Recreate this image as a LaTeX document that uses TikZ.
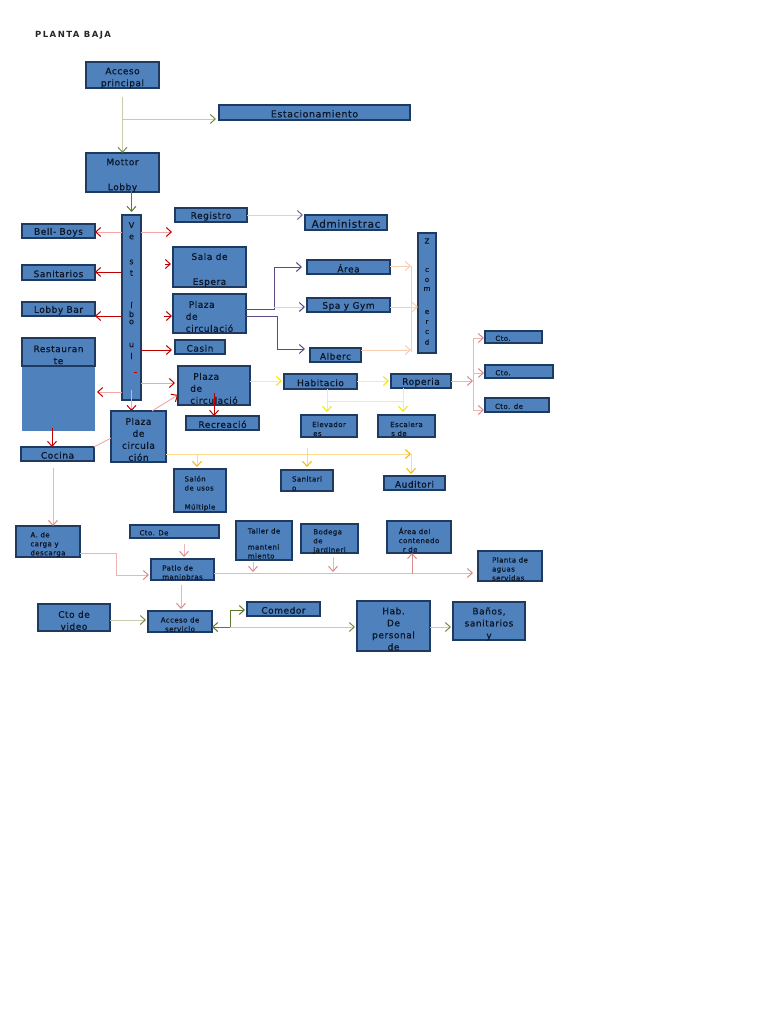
\documentclass[tikz,border=0pt]{standalone}
\usepackage{fontspec}
\setmainfont{DejaVu Sans}[LetterSpace=6,FakeBold=0.6]
\newfontfamily\titlef{DejaVu Sans}[LetterSpace=17]
\usetikzlibrary{arrows.meta}
\definecolor{boxfill}{HTML}{4F81BD}
\definecolor{boxline}{HTML}{1F3A60}
\definecolor{txt}{HTML}{0C1628}
\definecolor{redD}{HTML}{C00000}
\definecolor{redP}{HTML}{F4A6A6}
\definecolor{oliveP}{HTML}{C8CCAA}
\definecolor{oliveD}{HTML}{5E7A2E}
\definecolor{oliveT}{HTML}{7C8C48}
\definecolor{purp}{HTML}{5B4A86}
\definecolor{greyL}{HTML}{D4D4DC}
\definecolor{greyT}{HTML}{6E6E8E}
\definecolor{peach}{HTML}{FBCDB0}
\definecolor{yel}{HTML}{FFFF20}
\definecolor{yelT}{HTML}{F2E600}
\definecolor{orgL}{HTML}{FDDA8C}
\definecolor{orgT}{HTML}{F2B705}
\definecolor{pinkL}{HTML}{EEB4B4}
\definecolor{pinkT}{HTML}{D98A8A}
% \bx[text options]{name}{x1}{y1}{x2}{y2}{text}
\newcommand\bx[7][]{\node[box,minimum width={(#5)-(#3)},minimum height={(#6)-(#4)}] (#2) at ({((#3)+(#5))/2},{((#4)+(#6))/2}) {};
  \node[boxtext,#1] (#2-t) at ([yshift=-1.3pt]#2.center) {#7};}
\tikzset{
 box/.style={draw=boxline,fill=boxfill,line width=1.3pt,inner sep=0pt,outer sep=0pt},
 boxtext/.style={inner sep=0pt,text=txt,align=center,font=\fontsize{9}{12}\selectfont},
 ml/.style={yshift=-1.6pt},
 sm/.style={font=\fontsize{7}{9}\selectfont},
 vletter/.style={inner sep=0pt,text=txt,font=\fontsize{8}{9}\selectfont},
 zletter/.style={inner sep=0pt,text=txt,font=\fontsize{7}{9}\selectfont},
 tipc/.style={-{Straight Barb[length=5pt,width=9pt,line width=1pt,color=#1]}},
 lolive/.style={draw=oliveP,line width=0.9pt,tipc=oliveT},
 dolive/.style={draw=oliveD,line width=0.9pt,tipc=oliveD},
 lgrey/.style={draw=greyL,line width=0.9pt,tipc=greyT},
 lredP/.style={draw=redP,line width=0.9pt,tipc=redD},
 lredD/.style={draw=redD,line width=0.9pt,tipc=redD},
 redthin/.style={draw=redP,line width=0.9pt},
 lpurp/.style={draw=purp,line width=0.9pt,tipc=purp},
 lgreyP/.style={draw=greyL,line width=0.9pt,tipc=purp},
 lpeach/.style={draw=peach,line width=0.9pt,tipc=peach},
 peachline/.style={draw=peach,line width=0.9pt},
 lyel/.style={draw=yel,line width=1pt,tipc=yelT},
 yelline/.style={draw=yel,line width=1pt},
 lorg/.style={draw=orgL,line width=0.9pt,tipc=orgT},
 lpink/.style={draw=pinkL,line width=0.9pt,tipc=pinkT},
 lpinkD/.style={draw=pinkT,line width=0.9pt,tipc=pinkT},
 pinkline/.style={draw=pinkL,line width=0.9pt},
 bothtips/.style={{Straight Barb[length=5pt,width=9pt,line width=1pt,color=oliveD]}-{Straight Barb[length=5pt,width=9pt,line width=1pt,color=oliveD]}},
}
\begin{document}
\begin{tikzpicture}[x=1pt,y=-1pt]
\fill[white] (0,0) rectangle (768,1024);
\useasboundingbox (0,0) rectangle (768,1024);
\node[font=\titlef\bfseries\fontsize{8.5}{10}\selectfont,text=black!85,anchor=west,inner sep=0pt] (title) at (35,35) {PLANTA BAJA};
% boxes
\bx[ml]{acceso}{86}{62}{159}{88}{Acceso\\principal}
\bx[font=\fontsize{9.5}{12}\selectfont]{estac}{219}{105}{410}{120}{Estacionamiento}
\bx[ml]{mottor}{86}{153}{159}{192}{Mottor\\[13pt]Lobby}
\bx{vest}{122}{215}{141}{400}{}
\bx{registro}{175}{208}{247}{222}{Registro}
\bx[font=\fontsize{10.5}{12}\selectfont]{admin}{305}{215}{387}{230}{Administrac}
\bx[ml]{sala}{173}{247}{246}{287}{Sala de\\[13pt]Espera}
\bx[ml,align=left]{plazaA}{173}{294}{246}{333}{\hspace*{3pt}Plaza\\de\\circulació}
\bx{casin}{175}{340}{225}{354}{Casin}
\bx[ml,align=left]{plazaB}{178}{366}{250}{405}{\hspace*{3pt}Plaza\\de\\circulació}
\bx{recre}{186}{416}{259}{430}{Recreació}
\bx[ml]{plazaC}{111}{411}{166}{462}{Plaza\\de\\circula\\ción}
\bx{bell}{22}{224}{95}{238}{Bell- Boys}
\bx{sanit}{22}{265}{95}{280}{Sanitarios}
\bx{lobbybar}{22}{302}{95}{316}{Lobby Bar}
\node[fill=boxfill,inner sep=0pt,outer sep=0pt,minimum width=73,minimum height=65] (restfill) at (58.5,398.5) {};
\bx[ml]{rest}{22}{338}{95}{366}{Restauran\\te}
\bx{cocina}{21}{447}{94}{461}{Cocina}
\bx{area}{307}{260}{390}{274}{Área}
\bx{spa}{307}{298}{390}{312}{Spa y Gym}
\bx{alberc}{310}{348}{361}{362}{Alberc}
\bx{zona}{418}{233}{436}{353}{}
\bx{habit}{284}{374}{357}{389}{Habitacio}
\bx{roperia}{391}{374}{451}{388}{Roperia}
\bx[ml,sm,align=left]{elev}{301}{415}{357}{437}{Elevador\\\hspace*{1pt}es}
\bx[ml,sm,align=left]{escal}{378}{415}{435}{437}{Escalera\\\hspace*{1pt}s de}
\bx[sm]{cto1}{485}{331}{542}{343}{Cto.\hspace*{21pt}}
\bx[sm]{cto2}{485}{365}{553}{378}{Cto.\hspace*{32pt}}
\bx[sm]{cto3}{485}{398}{549}{412}{Cto. de\hspace*{16pt}}
\bx[ml,sm,align=left]{salon}{174}{469}{226}{512}{Salón\\de usos\\[10pt]Múltiple}
\bx[ml,sm,align=left]{sanit2}{281}{470}{333}{491}{Sanitari\\o}
\bx{audit}{384}{476}{445}{490}{Auditori}
\bx[ml,sm,align=left]{carga}{16}{526}{80}{557}{A. de\\carga y\\descarga}
\bx[sm]{ctode}{130}{525}{219}{538}{Cto. De\hspace*{41pt}}
\bx[ml,sm,align=left]{taller}{236}{521}{292}{560}{Taller de\\[7pt]manteni\\miento}
\bx[ml,sm,align=left]{bodega}{301}{524}{358}{553}{Bodega\\de\\jardineri}
\bx[ml,sm,align=left]{contened}{387}{521}{451}{553}{Área del\\contenedo\\\hspace*{4pt}r de}
\bx[ml,sm,align=left]{planta}{478}{551}{542}{581}{Planta de\\aguas\\servidas}
\bx[ml,sm,align=left]{patio}{151}{559}{214}{580}{Patio de\\maniobras}
\bx[ml]{video}{38}{604}{110}{631}{Cto de\\video}
\bx[ml,sm]{accserv}{148}{611}{212}{632}{Acceso de\\servicio}
\bx{comedor}{247}{602}{320}{616}{Comedor}
\bx[ml]{hab}{357}{601}{430}{651}{Hab.\\De\\personal\\de}
\bx[ml]{banos}{453}{602}{525}{640}{Baños,\\sanitarios\\y}
% vertical letters
\foreach \c/\yy [count=\i] in {V/225,e/237,s/262,t/273,í/305,b/314,o/322,u/345,l/356}
  \node[vletter] (vl\i) at (131.5,\yy) {\c};
\foreach \c/\yy [count=\i] in {Z/241,c/270,o/280,m/289,e/312,r/322,c/332,d/342}
  \node[zletter] (zl\i) at (427,\yy) {\c};
\draw[redD,line width=0.9pt] (133.5,372) -- (137,372);
% top connectors
\draw[lolive] ([yshift=-9pt]acceso.south) -- (mottor.north);
\coordinate (j1) at (122.5,119);
\draw[lolive,shorten >=3pt] (j1) -- (estac.west |- j1);
\draw[dolive] ([yshift=3pt]vest.north |- mottor.south) -- ([yshift=3pt]vest.north);
\draw[lgrey,shorten >=2pt] (registro.east) -- (admin.west |- registro.east);
% red connectors
\draw[lredP] (vest.west |- 0,232) -- (bell.east |- 0,232);
\coordinate (fe1) at (172,232);
\draw[lredP] (vest.east |- fe1) -- (fe1);
\draw[lredD] (vest.west |- 0,272) -- (sanit.east |- 0,272);
\draw[lredD] ([xshift=-8pt]sala.west |- 0,264) -- ([xshift=-2pt]sala.west |- 0,264);
\draw[lredD] (vest.west |- 0,316) -- (lobbybar.east |- 0,316);
\draw[lredD] ([xshift=-9pt]plazaA.west |- 0,316) -- ([xshift=-1pt]plazaA.west |- 0,316);
\draw[lredD,shorten >=3pt] (vest.east |- 0,350) -- (casin.west |- 0,350);
\draw[lredP,shorten >=3pt] (vest.east |- 0,383) -- (plazaB.west |- 0,383);
\draw[lredP,shorten >=2pt] (vest.west |- 0,392) -- (restfill.east |- 0,392);
\draw[lredP] ([yshift=10pt]vest.south) -- (vest.south |- plazaC.north);
\draw[lredP] ([xshift=13.5pt]plazaC.north) -- (plazaB.west |- 0,395);
\draw[lredD] ([yshift=12pt]plazaB.south) -- (plazaB.south |- recre.north);
\draw[lredD] ([xshift=-6.5pt,yshift=3pt]restfill.south) -- ([xshift=-6.5pt]restfill.south |- cocina.north);
\draw[redthin] (cocina.north east) -- (plazaC.west |- 0,438);
\draw[lpink] ([xshift=-4.5pt,yshift=-7pt]cocina.south) -- ([xshift=-4.5pt]cocina.south |- carga.north);
% purple
\coordinate (p1) at (274,309);
\draw[lpurp,shorten >=5pt] (plazaA.east |- p1) -- (p1) |- (area.west);
\draw[lgreyP,shorten >=2pt] (p1 |- 0,307) -- (spa.west |- 0,307);
\draw[lpurp,shorten >=5pt] (plazaA.east |- 0,316) -- (277,316) |- (alberc.west |- 0,349);
% peach
\coordinate (z1) at (411,266);
\coordinate (z2) at (411,350);
\draw[lpeach] (area.east |- z1) -- (z1);
\draw[lpeach] (alberc.east |- z2) -- (z2);
\draw[peachline] (z1) -- ([yshift=-2pt]z2);
\draw[lpeach] (spa.east |- 0,307) -- (zona.west |- 0,307);
% yellow
\draw[lyel,shorten >=2pt] (plazaB.east |- 0,381) -- (habit.west |- 0,381);
\draw[lyel,shorten >=2pt] (habit.east |- 0,381) -- (roperia.west |- 0,381);
\draw[lyel,shorten >=3pt] ([xshift=6.5pt]habit.south) -- ([xshift=6.5pt]habit.south |- elev.north);
\draw[lyel,shorten >=3pt] ([xshift=-18pt]roperia.south) -- ([xshift=-18pt]roperia.south |- escal.north);
\draw[yelline] ([xshift=6.5pt]habit.south |- 0,401) -- ([xshift=-18pt]roperia.south |- 0,401);
% pink from roperia
\coordinate (r0) at (473,381);
\coordinate (r1) at (473,338);
\coordinate (r2) at (473,373);
\coordinate (r3) at (473,410);
\draw[lpink] (roperia.east |- r0) -- (r0);
\draw[pinkline] (r1) -- (r3);
\draw[lpink,shorten >=1pt] (r1) -- (cto1.west |- r1);
\draw[lpink,shorten >=1pt] (r2) -- (cto2.west |- r2);
\draw[lpink,shorten >=1pt] (r3) -- (cto3.west |- r3);
% orange
\coordinate (o1) at (411,454);
\draw[lorg] (plazaC.east |- o1) -- (o1);
\draw[lorg,shorten >=2pt] (o1) -- (o1 |- audit.north);
\draw[lorg,shorten >=2pt] ([xshift=-3pt]salon.north |- o1) -- ([xshift=-3pt]salon.north);
\draw[lorg,shorten >=3pt] (sanit2.north |- 0,448) -- (sanit2.north);
% lower pink
\draw[lpink,shorten >=2pt] (carga.east |- 0,553) -- (116,553) |- (patio.west |- 0,575);
\draw[lpink,shorten >=2pt] ([xshift=9.5pt,yshift=-6pt]ctode.south) -- ([xshift=9.5pt]ctode.south |- patio.north);
\draw[lpink,shorten >=5pt] (patio.east |- 0,573) -- (planta.west |- 0,573);
\draw[lpink] ([xshift=-11pt,yshift=-2pt]taller.south) -- ([xshift=-11pt]taller.south |- 0,572);
\draw[lpink] ([xshift=3.5pt,yshift=-4pt]bodega.south) -- ([xshift=3.5pt]bodega.south |- 0,572);
\draw[lpinkD] ([xshift=-7pt]contened.south |- 0,574) -- ([xshift=-7pt]contened.south);
\draw[lpink,shorten >=2pt] ([xshift=-1.5pt,yshift=-5pt]patio.south) -- ([xshift=-1.5pt]patio.south |- accserv.north);
% olive lower
\draw[lolive,shorten >=2pt] (video.east |- 0,620) -- (accserv.west |- 0,620);
\coordinate (q1) at (230,627);
\draw[draw=oliveD,line width=0.9pt,bothtips,shorten >=2pt] (accserv.east |- q1) -- (q1) |- (comedor.west |- 0,610);
\draw[lolive,shorten >=2pt] (q1) -- (hab.west |- q1);
\draw[lolive,shorten >=2pt] (hab.east |- q1) -- (banos.west |- q1);
\end{tikzpicture}
\end{document}
